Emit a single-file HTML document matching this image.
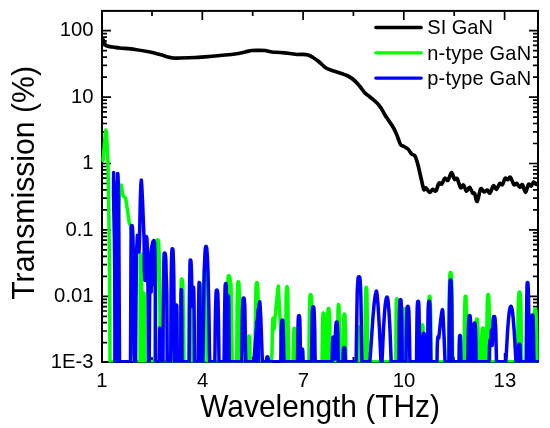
<!DOCTYPE html><html><head><meta charset="utf-8"><title>Transmission</title>
<style>html,body{margin:0;padding:0;background:#fff}svg{display:block}text{font-family:"Liberation Sans",Arial,sans-serif;fill:#000}</style></head><body>
<svg width="550" height="428" viewBox="0 0 550 428">
<rect width="550" height="428" fill="#fff"/>
<rect x="102.0" y="10.9" width="436.0" height="351.1" fill="none" stroke="#000" stroke-width="2"/>
<path d="M103.0 342.7h4M537.0 342.7h-4M103.0 331.0h4M537.0 331.0h-4M103.0 322.7h4M537.0 322.7h-4M103.0 316.3h4M537.0 316.3h-4M103.0 311.0h4M537.0 311.0h-4M103.0 306.6h4M537.0 306.6h-4M103.0 302.7h4M537.0 302.7h-4M103.0 299.3h4M537.0 299.3h-4M103.0 296.3h8M537.0 296.3h-8M103.0 276.3h4M537.0 276.3h-4M103.0 264.6h4M537.0 264.6h-4M103.0 256.3h4M537.0 256.3h-4M103.0 249.9h4M537.0 249.9h-4M103.0 244.6h4M537.0 244.6h-4M103.0 240.2h4M537.0 240.2h-4M103.0 236.3h4M537.0 236.3h-4M103.0 232.9h4M537.0 232.9h-4M103.0 229.9h8M537.0 229.9h-8M103.0 209.9h4M537.0 209.9h-4M103.0 198.2h4M537.0 198.2h-4M103.0 189.9h4M537.0 189.9h-4M103.0 183.5h4M537.0 183.5h-4M103.0 178.2h4M537.0 178.2h-4M103.0 173.8h4M537.0 173.8h-4M103.0 169.9h4M537.0 169.9h-4M103.0 166.5h4M537.0 166.5h-4M103.0 163.5h8M537.0 163.5h-8M103.0 143.5h4M537.0 143.5h-4M103.0 131.8h4M537.0 131.8h-4M103.0 123.5h4M537.0 123.5h-4M103.0 117.1h4M537.0 117.1h-4M103.0 111.8h4M537.0 111.8h-4M103.0 107.4h4M537.0 107.4h-4M103.0 103.5h4M537.0 103.5h-4M103.0 100.1h4M537.0 100.1h-4M103.0 97.1h8M537.0 97.1h-8M103.0 77.1h4M537.0 77.1h-4M103.0 65.4h4M537.0 65.4h-4M103.0 57.1h4M537.0 57.1h-4M103.0 50.7h4M537.0 50.7h-4M103.0 45.4h4M537.0 45.4h-4M103.0 41.0h4M537.0 41.0h-4M103.0 37.1h4M537.0 37.1h-4M103.0 33.7h4M537.0 33.7h-4M103.0 30.7h8M537.0 30.7h-8M202.3 11.9v8M202.3 361.0v-8M303.1 11.9v8M303.1 361.0v-8M403.8 11.9v8M403.8 361.0v-8M504.6 11.9v8M504.6 361.0v-8M152.0 11.9v4M152.0 361.0v-4M252.7 11.9v4M252.7 361.0v-4M353.4 11.9v4M353.4 361.0v-4M454.2 11.9v4M454.2 361.0v-4" stroke="#000" stroke-width="1.7" fill="none"/>
<clipPath id="c"><rect x="101.0" y="10.9" width="438.0" height="351.70000000000005"/></clipPath>
<g clip-path="url(#c)">
<path d="M102.5 39.0C102.7 39.2 103.1 39.7 103.5 40.5C103.9 41.3 104.4 43.1 105.0 44.0C105.6 44.9 105.7 45.5 107.0 46.0C108.3 46.5 110.8 46.7 113.0 47.0C115.2 47.3 116.3 47.6 120.0 48.0C123.7 48.4 130.0 48.8 135.0 49.5C140.0 50.2 145.8 51.2 150.0 52.0C154.2 52.8 157.0 53.7 160.0 54.5C163.0 55.3 165.8 56.4 168.0 57.0C170.2 57.6 171.0 57.8 173.0 58.0C175.0 58.2 176.3 58.1 180.0 58.0C183.7 57.9 190.8 57.7 195.0 57.5C199.2 57.3 200.8 57.1 205.0 56.8C209.2 56.5 215.0 56.0 220.0 55.5C225.0 55.0 230.8 54.6 235.0 54.0C239.2 53.4 242.2 52.6 245.0 52.0C247.8 51.4 249.8 50.8 252.0 50.5C254.2 50.2 255.8 50.3 258.0 50.3C260.2 50.3 262.7 50.2 265.0 50.5C267.3 50.8 269.5 51.7 272.0 52.0C274.5 52.3 277.0 52.2 280.0 52.5C283.0 52.8 287.2 53.2 290.0 53.5C292.8 53.8 294.8 54.4 297.0 54.5C299.2 54.6 301.2 54.2 303.0 54.3C304.8 54.4 306.3 54.5 308.0 55.0C309.7 55.5 311.3 56.5 313.0 57.5C314.7 58.5 316.5 59.8 318.0 61.0C319.5 62.2 320.7 63.3 322.0 64.5C323.3 65.7 324.3 67.0 326.0 68.0C327.7 69.0 329.7 69.7 332.0 70.5C334.3 71.3 337.3 72.1 340.0 73.0C342.7 73.9 345.5 74.7 348.0 76.0C350.5 77.3 353.0 79.2 355.0 81.0C357.0 82.8 358.3 84.5 360.0 86.5C361.7 88.5 363.3 91.2 365.0 93.0C366.7 94.8 368.0 95.3 370.0 97.0C372.0 98.7 375.2 101.2 377.0 103.0C378.8 104.8 379.7 106.0 381.0 108.0C382.3 110.0 383.7 112.8 385.0 115.0C386.3 117.2 387.7 119.0 389.0 121.0C390.3 123.0 391.8 125.0 393.0 127.0C394.2 129.0 395.2 131.2 396.0 133.0C396.8 134.8 397.2 136.1 398.0 138.0C398.8 139.9 399.5 143.1 400.5 144.5C401.5 145.9 402.8 145.8 404.0 146.5C405.2 147.2 406.7 147.8 408.0 149.0C409.3 150.2 410.5 152.8 411.7 154.0C412.9 155.2 413.9 154.2 415.0 156.0C416.1 157.8 417.0 161.3 418.0 165.0C419.0 168.7 420.0 173.9 421.0 178.0C422.0 182.1 423.0 187.7 423.8 189.4C424.6 191.1 425.0 187.5 426.0 188.0C427.0 188.5 428.5 192.2 429.6 192.4C430.7 192.6 431.6 189.6 432.7 189.4C433.8 189.2 434.9 192.0 435.9 191.0C436.9 190.0 437.9 184.5 438.9 183.3C439.9 182.1 440.7 184.8 441.7 184.0C442.7 183.2 443.8 178.9 444.8 178.3C445.9 177.7 446.9 181.1 448.0 180.2C449.1 179.3 450.4 172.8 451.5 172.7C452.6 172.5 453.6 178.3 454.5 179.3C455.4 180.3 456.2 177.3 457.2 178.7C458.2 180.1 459.4 186.4 460.5 187.5C461.6 188.6 462.5 184.4 463.5 185.0C464.5 185.6 465.5 190.8 466.5 191.2C467.5 191.6 468.6 187.0 469.6 187.3C470.6 187.6 471.8 192.0 472.6 193.0C473.4 194.0 473.8 192.0 474.6 193.4C475.4 194.8 476.2 202.1 477.2 201.4C478.2 200.7 479.5 190.6 480.6 189.0C481.7 187.4 482.9 191.8 484.0 192.0C485.1 192.2 486.4 189.8 487.4 190.0C488.4 190.2 489.0 193.7 490.0 193.0C491.0 192.3 492.2 186.4 493.3 185.8C494.4 185.2 495.2 189.8 496.3 189.4C497.4 189.0 498.8 184.3 499.8 183.5C500.8 182.7 501.5 185.6 502.4 184.7C503.3 183.8 504.1 179.1 505.0 178.3C505.9 177.5 506.9 179.9 507.8 179.7C508.7 179.5 509.4 176.5 510.4 177.3C511.4 178.1 513.0 183.7 514.0 184.7C515.0 185.7 515.5 182.9 516.5 183.3C517.5 183.7 518.9 187.1 519.9 187.3C520.9 187.5 521.6 183.8 522.5 184.7C523.4 185.5 524.5 192.5 525.5 192.4C526.5 192.3 527.6 185.4 528.5 184.3C529.4 183.2 530.2 186.4 531.1 186.0C532.0 185.6 532.8 182.3 533.6 182.0C534.5 181.7 535.5 184.1 536.2 184.3C536.9 184.5 537.7 183.2 538.0 183.0" fill="none" stroke="#000" stroke-width="3.7" stroke-linejoin="round" stroke-linecap="round"/>
<path d="M229.3 281.0V363M230.9 284.0V363" fill="none" stroke="#00ff00" stroke-width="3.5" stroke-linecap="round"/>
<path d="M103.0 160.5L105.3 133.5L105.9 130.0L106.5 133.5L107.2 146.1L107.9 160.0L108.8 211.3L109.4 260.0L109.8 320.0L110.0 361.8L115.2 361.8L115.5 361.0L117.0 300.0L118.5 215.0L119.6 190.0L121.2 185.0L123.2 196.0L125.6 198.0L129.2 222.5L130.8 226.4L132.0 240.0L133.5 300.0L134.5 361.0L134.8 361.8L140.0 361.8L140.2 283.0L140.5 257.5L140.8 254.0L141.0 254.2L141.2 257.5L141.5 270.3L141.8 301.6L142.0 361.8L142.8 361.8L143.0 324.5L143.2 301.5L143.5 294.0L143.8 293.0L144.0 293.2L144.2 297.2L144.5 312.7L144.8 350.5L145.0 361.8L155.0 361.8L155.2 353.5L155.8 290.9L156.0 271.4L156.2 257.8L156.5 249.1L156.8 243.8L157.0 241.1L157.2 240.0L157.5 239.7L157.8 239.7L158.0 239.8L158.2 240.2L158.5 241.7L158.8 244.8L159.0 250.5L159.2 259.7L159.5 273.4L160.0 319.2L160.2 353.8L160.5 361.8L173.0 361.8L173.5 324.0L174.0 361.8L180.5 361.8L181.0 292.9L181.2 281.1L181.5 279.0L181.8 279.0L182.0 279.2L182.2 279.9L182.5 281.7L182.8 285.3L183.0 291.6L183.2 301.3L183.5 315.6L184.0 361.8L189.0 361.8L189.2 300.6L189.5 280.7L189.8 278.0L190.0 278.1L190.2 279.2L190.5 283.8L190.8 294.9L191.0 316.4L191.2 352.4L191.5 361.8L199.8 361.8L200.0 312.4L200.2 288.3L200.5 284.1L200.6 284.0L200.8 284.2L201.0 290.9L201.5 361.8L203.0 361.8L203.2 354.7L203.8 302.8L204.0 287.5L204.2 277.3L204.5 271.2L204.8 267.9L205.0 266.5L205.2 266.0L205.5 266.0L205.8 266.2L206.0 268.0L206.2 274.5L206.5 289.2L206.8 316.6L207.0 361.8L226.5 361.8L226.8 354.5L227.0 324.5L227.2 303.7L227.5 290.2L227.8 282.2L228.0 278.0L228.2 276.3L228.5 275.8L229.0 275.8L229.2 275.9L229.5 276.3L229.8 277.1L230.0 278.5L230.2 280.8L230.5 284.2L231.0 295.6L231.5 315.2L232.2 361.8L236.5 361.8L236.8 353.4L237.0 320.4L237.2 300.0L237.5 288.8L237.8 283.6L238.0 281.9L238.3 281.7L238.5 281.7L238.8 282.3L239.0 284.6L239.2 290.3L239.5 301.1L239.8 319.3L240.0 347.3L240.2 361.8L247.5 361.8L247.8 358.2L248.0 345.4L248.2 339.0L248.5 336.6L248.8 336.0L249.0 336.0L249.2 336.3L249.5 338.3L249.8 343.7L250.0 355.0L250.2 361.8L255.0 361.8L255.2 330.9L255.5 309.7L255.8 296.2L256.0 288.3L256.2 284.4L256.5 282.8L256.8 282.5L257.0 282.5L257.2 282.7L257.5 283.9L257.8 287.2L258.0 294.2L258.2 306.5L258.5 326.0L258.8 354.7L259.0 361.8L271.2 361.8L272.0 353.1L272.5 326.0L272.8 320.2L273.0 318.3L273.3 318.0L273.5 318.2L273.8 320.7L274.0 329.2L277.5 292.2L278.3 285.9L282.2 360.7L282.5 361.8L285.5 361.8L286.0 309.8L286.2 295.2L286.5 288.7L286.8 286.9L287.0 286.7L287.2 286.9L287.5 288.7L287.8 295.2L288.0 309.8L288.5 361.8L293.0 361.8L293.5 336.3L293.8 330.4L294.0 328.5L294.3 328.2L294.5 328.3L294.8 329.3L295.0 333.3L295.2 343.0L295.5 361.8L308.8 361.8L309.0 348.9L309.2 324.5L309.5 309.2L309.8 300.4L310.0 296.3L310.2 294.8L310.5 294.5L310.8 294.5L311.0 294.7L311.2 295.8L311.5 298.6L311.8 304.2L312.0 313.8L312.2 328.8L312.5 350.7L312.8 361.8L322.0 361.8L322.5 326.5L322.8 317.3L323.0 313.8L323.2 313.0L323.5 313.0L323.8 313.3L324.0 315.0L324.2 319.7L324.5 329.5L325.0 361.8L327.0 361.8L327.2 337.9L327.5 322.9L327.8 314.3L328.0 310.2L328.2 308.8L328.5 308.5L328.8 308.5L329.0 308.9L329.2 310.8L329.5 315.6L329.8 325.3L330.2 361.8L337.2 361.8L337.5 346.8L337.8 321.7L338.0 309.7L338.2 305.4L338.5 304.6L338.8 304.7L339.0 306.9L339.2 317.3L339.5 344.2L339.8 361.8L342.8 361.8L343.0 351.5L343.2 332.8L343.5 321.9L343.8 316.5L344.0 314.4L344.2 313.9L344.5 313.9L344.8 314.2L345.0 315.8L345.2 320.5L345.5 330.1L346.0 361.8L357.5 361.8L358.0 335.4L358.2 329.3L358.5 327.3L358.8 327.0L359.0 327.1L359.2 328.1L359.5 332.3L359.8 342.4L360.0 361.8L364.8 361.8L365.0 343.6L365.2 312.2L365.5 295.8L365.8 289.1L366.0 287.4L366.2 287.3L366.5 287.6L366.8 290.1L367.0 297.8L367.2 314.5L367.5 344.8L367.8 361.8L395.8 361.8L396.0 327.6L396.2 306.5L396.5 299.6L396.8 298.7L397.0 298.8L397.2 299.6L397.5 303.1L397.8 311.5L398.0 327.6L398.2 354.7L398.5 361.8L402.8 361.8L403.2 324.0L403.5 314.7L403.8 310.4L404.0 309.0L404.3 308.8L404.5 308.8L404.8 309.6L405.0 312.5L405.2 319.5L405.5 333.1L405.8 355.9L406.0 361.8L421.0 361.8L421.5 333.8L421.8 327.2L422.0 325.1L422.3 324.8L422.5 324.8L422.8 325.3L423.0 327.4L423.2 332.3L423.5 341.7L423.8 357.7L424.0 361.8L428.0 361.8L428.5 318.4L428.8 305.2L429.0 298.9L429.2 296.6L429.5 296.2L429.8 296.2L430.0 296.8L430.2 299.7L430.5 307.2L430.8 322.1L431.0 347.7L431.2 361.8L448.5 361.8L449.0 313.4L449.2 295.1L449.5 283.5L449.8 277.0L450.0 273.8L450.2 272.7L450.5 272.5L450.8 272.5L451.0 272.8L451.2 274.2L451.5 278.0L451.8 285.4L452.0 298.1L452.2 318.0L452.5 347.1L452.8 361.8L464.0 361.8L464.5 316.4L464.8 303.6L465.0 298.0L465.2 296.4L465.5 296.2L465.8 296.3L466.0 297.6L466.2 302.0L466.5 312.1L466.8 330.9L467.0 361.8L475.2 361.8L475.5 352.6L475.8 335.9L476.0 326.2L476.2 321.3L476.5 319.4L476.8 319.0L477.0 319.0L477.2 319.3L477.5 320.7L477.8 324.9L478.0 333.5L478.5 361.8L481.0 361.8L481.2 358.6L481.5 345.9L481.8 337.4L482.0 332.3L482.2 329.6L482.5 328.4L482.8 328.0L483.0 328.0L483.2 328.3L483.5 331.0L483.8 340.3L484.0 361.8L486.5 361.8L487.0 319.1L487.2 305.4L487.5 298.2L487.8 295.3L488.0 294.5L488.2 294.5L488.5 294.7L488.8 296.1L489.0 300.4L489.2 309.9L489.5 327.0L489.8 354.7L490.0 361.8L517.5 361.8L518.0 322.5L518.2 308.1L518.5 299.4L518.8 294.7L519.0 292.7L519.2 292.1L519.5 292.0L519.8 292.0L520.0 292.5L520.2 293.9L520.5 297.2L520.8 303.4L521.0 313.5L521.2 328.9L521.5 350.8L521.8 361.8L527.5 361.8L527.8 353.7L528.0 350.1L528.2 349.1L528.5 349.0L528.8 349.1L529.0 350.1L529.2 353.7L529.5 361.8L533.5 361.8L533.8 355.9L534.0 333.1L534.2 319.5L534.5 312.5L534.8 309.6L535.0 308.8L535.2 308.8L535.5 308.9L535.8 309.6L536.0 311.9L536.2 316.8L536.5 325.8L536.8 340.2L537.0 361.8L538.0 361.8" fill="none" stroke="#00ff00" stroke-width="3.5" stroke-linejoin="round" stroke-linecap="round"/>
<path d="M115.2 215.0V363M116.2 183.0V363M117.5 180.0V363M151.2 252.0V292M152.6 246.0V285M258.2 309.0V363M256.6 322.0V363" fill="none" stroke="#0000ff" stroke-width="3.5" stroke-linecap="round"/>
<path d="M103.0 372.0L115.2 372.0L117.6 173.5L117.8 173.6L118.0 175.6L118.2 182.4L118.5 197.0L118.8 222.6L119.0 262.1L119.5 361.8L130.5 361.8L131.0 248.2L131.2 228.9L131.5 225.4L131.8 225.4L132.0 225.6L132.2 226.3L132.5 228.3L132.8 232.3L133.0 239.1L133.2 249.7L133.5 265.3L134.0 315.7L134.2 353.2L134.5 361.8L135.6 361.8L136.0 300.0L136.6 250.0L137.5 235.2L139.0 252.0L139.5 240.0L140.3 200.0L140.8 186.0L141.3 180.0L141.8 186.0L142.5 200.0L144.1 240.0L144.3 270.0L145.0 280.5L145.2 273.9L145.5 247.5L145.8 238.1L146.0 236.4L146.2 236.4L146.5 236.6L146.8 237.7L147.0 240.4L147.3 247.5L147.5 255.4L148.0 291.8L148.5 361.8L149.2 361.8L149.6 300.0L150.3 262.0L151.5 248.0L152.8 242.0L153.8 240.5L154.6 243.0L155.0 255.0L155.3 300.0L155.5 361.8L159.2 361.8L159.7 328.0L159.8 328.1L160.0 361.8L163.0 361.8L163.2 313.0L163.5 282.3L163.8 264.9L164.0 256.5L164.2 253.5L164.5 253.0L164.8 253.0L165.0 253.2L165.2 253.9L165.5 255.7L165.8 259.3L166.0 265.5L166.2 275.2L166.5 281.9L166.8 294.2L167.0 322.3L167.2 361.8L170.5 361.8L170.8 350.6L171.0 306.0L171.2 277.5L171.5 260.9L171.8 252.6L172.0 249.4L172.2 248.7L172.5 248.7L172.8 249.0L173.0 250.4L173.2 254.4L173.5 262.7L173.8 277.3L174.0 300.5L174.5 361.8L175.5 361.8L175.8 350.3L176.0 316.0L176.2 306.0L176.5 305.0L176.8 306.0L177.0 316.0L177.2 350.3L177.5 361.8L180.5 361.8L180.8 342.8L181.0 295.9L181.2 289.5L181.3 289.5L181.5 291.0L181.8 315.9L182.0 361.8L189.2 361.8L189.5 310.4L189.8 276.1L190.0 263.0L190.2 260.1L190.5 260.0L190.8 260.2L191.0 261.5L191.2 265.1L191.5 272.6L191.8 285.7L192.0 306.6L192.2 302.1L192.5 292.2L192.8 288.1L193.0 287.1L193.2 287.0L193.5 287.4L193.8 290.7L194.0 300.7L194.2 322.4L194.5 361.8L198.2 361.8L198.5 318.8L198.8 292.3L199.0 283.7L199.2 282.5L199.5 282.8L199.8 287.3L200.0 305.3L200.2 348.8L200.5 361.8L202.8 361.8L203.8 294.2L204.2 271.9L205.0 252.7L205.2 249.5L205.5 247.5L205.8 246.6L206.0 246.4L206.2 246.5L206.5 247.2L206.8 248.7L207.0 251.1L207.5 259.3L208.0 272.9L208.8 305.3L209.5 354.0L209.8 361.8L214.8 361.8L215.0 350.0L215.2 326.6L215.5 310.6L215.8 300.4L216.0 294.4L216.2 291.4L216.5 290.3L216.8 290.0L217.0 290.0L217.2 290.2L217.5 291.1L217.8 293.6L218.0 298.9L218.2 308.1L218.5 322.9L219.0 361.8L224.0 361.8L224.2 353.6L224.5 321.3L224.8 301.3L225.0 290.3L225.2 285.3L225.5 283.6L225.8 283.4L226.0 283.5L226.2 285.9L226.5 295.3L226.8 318.0L227.0 361.8L227.2 361.8L227.5 339.6L227.8 307.7L228.0 297.4L228.2 296.0L228.3 296.0L228.5 296.5L228.8 304.8L229.2 361.8L241.8 361.8L242.2 321.3L242.5 309.4L242.8 302.6L243.0 299.4L243.2 298.2L243.5 298.0L243.8 298.0L244.0 298.2L244.2 299.2L244.5 301.9L244.8 307.2L245.0 316.3L245.2 330.5L245.5 351.3L245.8 361.8L253.8 361.8L256.0 334.9L256.2 330.0L256.3 330.0L256.5 329.4L257.5 319.1L258.0 312.4L258.2 312.0L259.2 304.5L259.8 301.8L260.0 303.9L260.8 318.0L262.2 357.3L262.5 361.8L266.2 361.8L266.5 360.2L266.8 357.8L267.0 356.9L267.2 356.7L267.5 356.7L267.8 356.8L268.0 357.6L268.5 361.8L280.8 361.8L281.2 332.0L281.5 324.6L281.8 321.2L282.0 320.1L282.3 320.0L282.5 320.0L282.8 320.6L283.0 322.9L283.2 328.5L283.5 339.1L283.8 357.1L284.0 361.8L297.5 361.8L297.8 340.0L298.0 326.7L298.2 319.6L298.5 316.5L298.8 315.6L299.0 315.5L299.2 315.6L299.5 316.5L299.8 319.6L300.0 326.7L300.2 340.0L300.5 361.8L301.2 361.8L301.5 354.3L301.8 350.1L302.0 349.1L302.2 349.0L302.5 349.3L302.8 351.3L303.0 357.5L303.2 361.8L311.5 361.8L312.0 326.9L312.2 315.7L312.5 309.8L312.8 307.4L313.0 306.8L313.2 306.8L313.5 306.9L313.8 307.5L314.0 309.5L314.2 313.7L314.5 321.4L314.8 333.8L315.0 352.3L315.2 361.8L332.0 361.8L332.5 343.0L332.8 338.6L333.0 337.2L333.3 337.0L333.5 337.0L333.8 337.4L334.0 338.7L334.2 342.0L334.5 348.4L334.8 359.0L335.0 354.6L335.2 340.7L335.5 331.6L335.8 326.3L336.0 323.5L336.2 322.3L336.5 322.0L336.8 322.0L337.0 322.1L337.2 323.2L337.5 326.4L337.8 333.4L338.2 361.8L343.0 361.8L343.2 353.8L343.5 349.7L343.8 348.0L344.0 347.5L344.2 347.5L344.5 347.6L344.8 348.4L345.0 351.0L345.5 361.8L356.0 361.8L356.2 356.6L356.8 316.3L357.2 293.1L357.5 286.3L357.8 281.8L358.0 279.0L358.2 277.5L358.5 276.9L358.8 276.7L359.2 276.7L359.5 276.9L359.8 277.5L360.0 279.0L360.2 281.8L360.5 286.3L360.8 293.1L361.2 316.3L361.8 356.6L362.0 361.8L369.8 361.8L370.0 360.1L372.8 319.1L374.2 303.1L375.2 295.4L375.8 292.8L376.0 291.8L376.2 291.2L376.4 291.0L376.5 291.2L376.8 292.2L377.2 295.9L378.0 304.5L379.5 330.0L380.8 358.1L381.0 361.8L382.0 361.8L383.5 328.8L384.5 313.2L385.2 304.9L385.8 301.1L386.2 298.5L386.5 297.6L386.8 297.2L387.0 297.0L387.2 297.2L387.5 297.9L387.8 299.1L388.2 302.7L389.0 311.7L390.0 330.1L391.2 361.8L398.8 361.8L399.0 349.2L399.2 325.8L399.5 311.6L399.8 304.0L400.0 300.7L400.2 299.7L400.5 299.6L400.8 299.7L401.0 300.5L401.2 303.1L401.5 309.3L401.8 320.8L402.2 361.8L406.0 361.8L406.2 339.2L406.5 324.1L406.8 314.7L407.0 309.5L407.2 307.2L407.5 306.4L407.8 306.3L408.0 306.3L408.2 306.6L408.5 307.7L408.8 310.4L409.0 315.6L409.2 324.3L409.5 337.7L409.8 357.1L410.0 361.8L416.5 361.8L416.8 334.6L417.0 317.5L417.2 307.8L417.5 303.2L417.8 301.5L418.0 301.2L418.2 301.2L418.5 301.7L418.8 303.8L419.0 309.3L419.2 320.3L419.8 361.8L422.5 361.8L422.8 345.8L423.0 337.5L423.2 334.1L423.5 333.3L423.8 333.2L424.0 333.3L424.2 334.1L424.5 336.4L424.8 341.4L425.2 361.8L427.5 361.8L427.8 334.6L428.0 317.5L428.2 307.8L428.5 303.2L428.8 301.5L429.0 301.2L429.2 301.2L429.5 301.7L429.8 303.8L430.0 309.3L430.2 320.3L430.8 361.8L437.0 361.8L437.2 348.5L437.5 341.2L437.8 337.8L438.0 336.7L438.3 336.6L438.5 336.7L438.8 338.1L439.0 336.1L440.8 319.1L441.8 312.3L442.2 310.2L442.5 309.7L442.8 311.3L443.2 318.3L444.2 340.2L445.0 361.8L449.0 361.8L449.2 325.1L449.5 302.0L449.8 288.9L450.0 282.6L450.2 280.4L450.5 280.0L450.8 280.0L451.0 280.6L451.2 283.5L451.5 290.9L451.8 305.7L452.2 361.8L459.0 361.8L459.2 345.0L459.5 337.7L459.8 335.6L460.0 335.4L460.2 335.6L460.5 337.7L460.8 345.0L461.0 361.8L467.8 361.8L468.0 353.4L468.2 337.2L468.5 326.7L468.8 320.4L469.0 317.2L469.2 315.9L469.5 315.5L469.8 315.5L470.0 315.7L470.2 316.9L470.5 320.6L470.8 328.8L471.2 361.8L473.0 361.8L473.2 357.5L473.5 340.8L473.8 330.8L474.0 325.7L474.2 323.6L474.5 323.0L474.8 323.0L475.0 323.2L475.2 324.9L475.5 330.1L475.8 341.4L476.0 361.8L489.0 361.8L489.2 358.2L489.5 346.3L489.8 341.3L490.0 340.1L490.2 340.0L490.5 340.3L490.8 342.7L491.0 341.6L491.2 331.8L491.5 330.0L491.6 330.0L491.8 330.1L492.0 332.8L492.2 345.4L492.5 340.4L492.8 329.1L493.0 322.2L493.2 318.5L493.5 316.9L493.8 316.4L494.2 316.4L494.5 316.6L494.8 317.2L495.0 318.5L495.2 321.0L495.5 325.2L495.8 331.4L496.5 361.8L505.8 361.8L506.0 359.6L507.5 332.0L508.5 319.1L509.2 312.3L509.8 309.2L510.2 307.2L510.5 306.7L510.8 306.3L511.0 306.3L511.2 306.6L511.5 307.1L512.0 309.0L512.5 312.0L513.2 318.6L514.2 331.2L515.8 358.5L516.0 361.8L518.0 361.8L518.5 348.3L518.8 345.2L519.0 344.1L519.3 344.0L519.5 344.0L519.8 344.6L520.0 346.7L520.2 351.9L520.5 361.8L526.2 361.8L526.5 324.4L526.8 297.8L527.0 286.2L527.2 282.8L527.5 282.5L527.8 282.6L528.0 283.9L528.2 288.1L528.5 297.8L528.8 315.9L529.0 345.8L529.2 361.8L531.0 361.8L531.2 339.7L531.5 326.3L531.8 319.1L532.0 316.0L532.2 315.1L532.5 315.0L532.8 315.1L533.0 316.7L533.2 321.8L533.5 333.7L533.8 355.8L534.0 361.8L538.0 361.8" fill="none" stroke="#0000ff" stroke-width="3.5" stroke-linejoin="round" stroke-linecap="round"/>
<path d="M115.3 362.5L114.9 300.0L114.4 240.0L113.9 215.0L113.5 195.0L113.6 172.5L114.3 215.0L115.5 363.0" fill="none" stroke="#0000ff" stroke-width="3.5" stroke-linejoin="round" stroke-linecap="round"/>
</g>
<path d="M375.8 27.5H421.2" stroke="#000" stroke-width="3.3" stroke-linecap="round"/>
<text transform="translate(427.3 34.3) scale(1 1.05)" font-size="20">SI GaN</text>
<path d="M375.8 52.8H421.2" stroke="#00ff00" stroke-width="3.3" stroke-linecap="round"/>
<text transform="translate(427.3 59.6) scale(1 1.05)" font-size="20" letter-spacing="0.17">n-type GaN</text>
<path d="M375.8 78.1H421.2" stroke="#0000ff" stroke-width="3.3" stroke-linecap="round"/>
<text transform="translate(427.3 84.9) scale(1 1.05)" font-size="20" letter-spacing="0.17">p-type GaN</text>
<text transform="translate(93.6 36.3) scale(1 1.03)" font-size="20.3" text-anchor="end">100</text>
<text transform="translate(93.6 102.7) scale(1 1.03)" font-size="20.3" text-anchor="end">10</text>
<text transform="translate(93.6 169.1) scale(1 1.03)" font-size="20.3" text-anchor="end">1</text>
<text transform="translate(93.6 235.5) scale(1 1.03)" font-size="20.3" text-anchor="end">0.1</text>
<text transform="translate(93.6 301.9) scale(1 1.03)" font-size="20.3" text-anchor="end">0.01</text>
<text transform="translate(93.6 368.3) scale(1 1.03)" font-size="20.3" text-anchor="end">1E-3</text>
<text transform="translate(101.9 387.1) scale(1 1.03)" font-size="20.3" text-anchor="middle">1</text>
<text transform="translate(202.6 387.1) scale(1 1.03)" font-size="20.3" text-anchor="middle">4</text>
<text transform="translate(303.4 387.1) scale(1 1.03)" font-size="20.3" text-anchor="middle">7</text>
<text transform="translate(404.1 387.1) scale(1 1.03)" font-size="20.3" text-anchor="middle">10</text>
<text transform="translate(504.9 387.1) scale(1 1.03)" font-size="20.3" text-anchor="middle">13</text>
<text transform="translate(320.1 416.9) scale(1 1.04)" font-size="29.9" text-anchor="middle">Wavelength (THz)</text>
<text transform="translate(34.2 182.9) rotate(-90) scale(1 1.04)" font-size="30.2" text-anchor="middle">Transmission (%)</text>
</svg></body></html>
